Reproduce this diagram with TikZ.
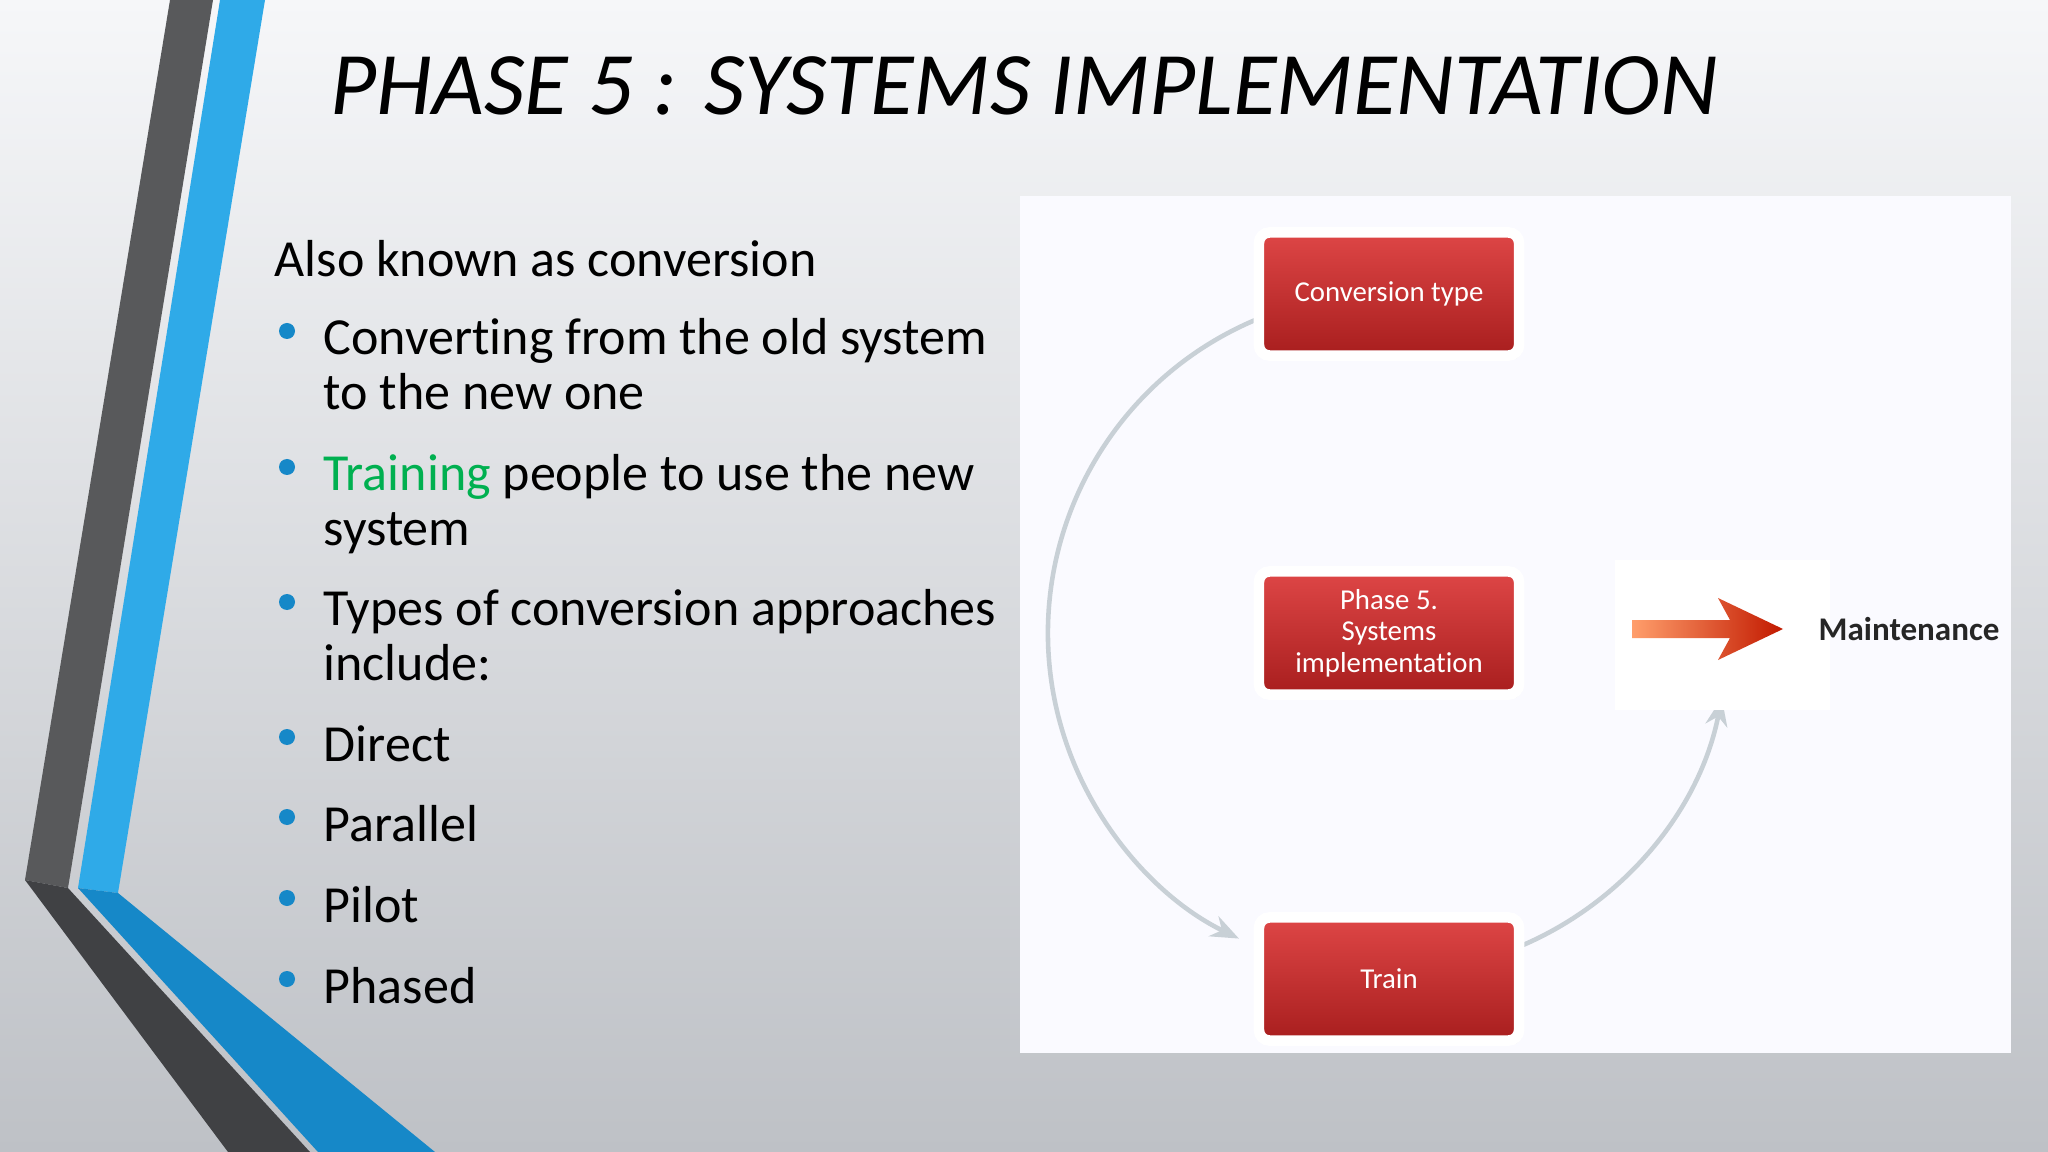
\documentclass[tikz,border=0pt]{standalone}
\usepackage{fontspec}
\setmainfont{Carlito}[Ligatures=NoCommon]
\usetikzlibrary{arrows.meta,shadows}
\definecolor{bgtop}{RGB}{246,247,249}
\definecolor{bgbot}{RGB}{190,193,198}
\definecolor{darkstripe}{RGB}{88,89,91}
\definecolor{darkstripe2}{RGB}{64,65,68}
\definecolor{bluestripe}{RGB}{47,170,232}
\definecolor{bluestripe2}{RGB}{22,136,200}
\definecolor{bulletblue}{RGB}{22,136,200}
\definecolor{boxtop}{RGB}{222,70,70}
\definecolor{boxbot}{RGB}{168,30,30}
\definecolor{arcgray}{RGB}{200,208,214}
\definecolor{trainGreen}{RGB}{0,176,80}
\tikzset{
 stepbox/.style={draw=white,line width=3pt,top color=boxtop,bottom color=boxbot,rounded corners=3pt,
   minimum width=2.6cm,minimum height=1.23cm,text=white,font=\fontsize{8.2}{9}\selectfont,align=center,
   drop shadow={shadow xshift=0.03cm,shadow yshift=-0.04cm,opacity=0.3}},
 bodytext/.style={anchor=base west,font=\fontsize{14.8}{17}\selectfont,inner sep=0},
 cyc/.style={draw=arcgray,line width=1.3pt,-{Stealth[length=0.28cm,width=0.22cm]}}
}
\begin{document}
\begin{tikzpicture}[x=0.01cm,y=0.01cm]
\useasboundingbox (0,0) rectangle (2048,-1152);
\shade[top color=bgtop,bottom color=bgbot] (0,0) rectangle (2048,-1152);
% stripes
\fill[darkstripe] (170,0) -- (213,0) -- (68,-888) -- (25,-880) -- cycle;
\fill[darkstripe2] (25,-880) -- (68,-888) -- (310,-1152) -- (228,-1152) -- cycle;
\fill[bluestripe] (220,0) -- (265,0) -- (118,-893) -- (78,-888) -- cycle;
\fill[bluestripe2] (78,-888) -- (118,-893) -- (435,-1152) -- (318,-1152) -- cycle;
% title
\node[anchor=base west,inner sep=0,font=\fontsize{25.4}{28}\selectfont\itshape] (title) at (330,-115) {PHASE 5 : SYSTEMS IMPLEMENTATION};
% body
\node[bodytext] (t0) at (274,-277) {Also known as conversion};
\node[bodytext] (t1) at (323,-355) {Converting from the old system};
\node[bodytext] (t1b) at (323,-410) {to the new one};
\node[bodytext] (t2) at (323,-491) {\textcolor{trainGreen}{Training} people to use the new};
\node[bodytext] (t2b) at (323,-546) {system};
\node[bodytext] (t3) at (323,-626) {Types of conversion approaches};
\node[bodytext] (t3b) at (323,-680) {include:};
\node[bodytext] (t4) at (323,-761) {Direct};
\node[bodytext] (t5) at (323,-841) {Parallel};
\node[bodytext] (t6) at (323,-922) {Pilot};
\node[bodytext] (t7) at (323,-1003) {Phased};
\foreach \y in {-355,-491,-626,-761,-841,-922,-1003}
  \fill[bulletblue] (287,\y+24) circle (8);
% panel
\fill[white!98!blue] (1020,-196) rectangle (2011,-1053);
\draw[cyc] (1388,-633) ++(112:340) arc[start angle=112,end angle=244,radius=340];
\draw[cyc] (1388,-633) ++(-67:340) arc[start angle=-67,end angle=-11,radius=340];
\node[stepbox] (conv) at (1389,-294) {Conversion type};
\node[stepbox] (phase) at (1389,-633) {Phase 5.\\Systems\\implementation};
\node[stepbox] (train) at (1389,-979) {Train};
\fill[white] (1615,-560) rectangle (1830,-710);
\shade[left color=white!70!red!60!orange,right color=red!70!black!80!orange,draw=none]
  (1632,-620) -- (1730,-620) -- (1718,-598) -- (1783,-629) -- (1718,-660) -- (1730,-638) -- (1632,-638) -- cycle;
\node[anchor=west,inner sep=0,font=\fontsize{9.4}{11}\selectfont\bfseries,text=black!85] (maint) at (1818,-629) {Maintenance};
\end{tikzpicture}
\end{document}
